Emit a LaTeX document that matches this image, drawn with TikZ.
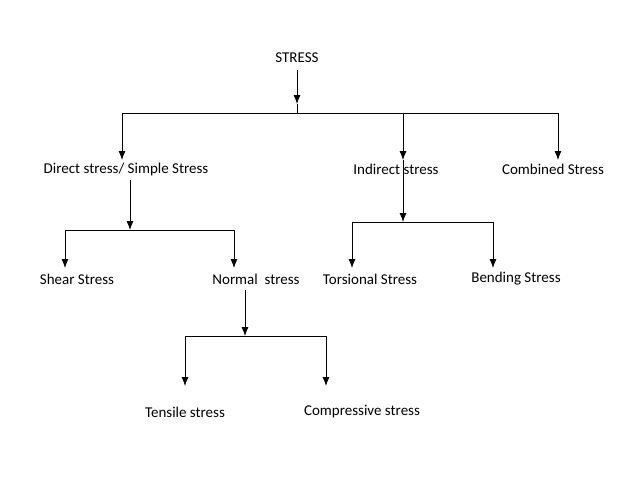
\documentclass[tikz,border=0pt]{standalone}
\usepackage{fontspec}
\setmainfont{Carlito}
\usetikzlibrary{arrows.meta}
\begin{document}
\begin{tikzpicture}[x=1pt,y=-1pt,
  lbl/.style={font=\fontsize{15}{17}\selectfont,inner sep=0pt},
  arr/.style={-{Latex[length=9pt,width=7pt]},line width=0.8pt},
  ln/.style={line width=0.8pt}]
\useasboundingbox (0,0) rectangle (638,479);
\node[lbl] (stress) at (297,58) {STRESS};
\node[lbl] (direct) at (126,169) {Direct stress/ Simple Stress};
\node[lbl] (indirect) at (396,169) {Indirect stress};
\node[lbl] (combined) at (553,169) {Combined Stress};
\node[lbl] (shear) at (77,279) {Shear Stress};
\node[lbl] (normal) at (256,279) {Normal~~stress};
\node[lbl] (tors) at (370,279) {Torsional Stress};
\node[lbl] (bend) at (516,279) {Bending Stress};
\node[lbl] (tens) at (185,412) {Tensile stress};
\node[lbl] (comp) at (362,412) {Compressive stress};
% level 1
\coordinate (s0) at (297,70); \coordinate (s1) at (297,104);
\draw[arr] (s0) -- (s1);
\coordinate (hA) at (122,113); \coordinate (hB) at (403,113); \coordinate (hC) at (558,113);
\coordinate (mid) at (297,113);
\draw[ln] (mid) -- (s1);
\draw[ln] (hA) -- (hC);
\coordinate (tA) at (122,160); \coordinate (tB) at (403,160); \coordinate (tC) at (558,160);
\draw[arr] (hA) -- (tA); \draw[arr] (hB) -- (tB); \draw[arr] (hC) -- (tC);
% direct
\coordinate (d0) at (130,180); \coordinate (d1) at (130,230);
\draw[arr] (d0) -- (d1);
\coordinate (dl) at (65,230); \coordinate (dr) at (234,230);
\draw[ln] (dl) -- (dr);
\coordinate (dlt) at (65,268); \coordinate (drt) at (234,268);
\draw[arr] (dl) -- (dlt); \draw[arr] (dr) -- (drt);
% indirect
\coordinate (i0) at (403,160); \coordinate (i1) at (403,222);
\draw[arr] (i0) -- (i1);
\coordinate (il) at (352,222); \coordinate (ir) at (493,222);
\draw[ln] (il) -- (ir);
\coordinate (ilt) at (352,268); \coordinate (irt) at (493,268);
\draw[arr] (il) -- (ilt); \draw[arr] (ir) -- (irt);
% normal
\coordinate (n0) at (245,290); \coordinate (n1) at (245,336);
\draw[arr] (n0) -- (n1);
\coordinate (nl) at (185,336); \coordinate (nr) at (326,336);
\draw[ln] (nl) -- (nr);
\coordinate (nlt) at (185,386); \coordinate (nrt) at (326,386);
\draw[arr] (nl) -- (nlt); \draw[arr] (nr) -- (nrt);
\end{tikzpicture}
\end{document}
